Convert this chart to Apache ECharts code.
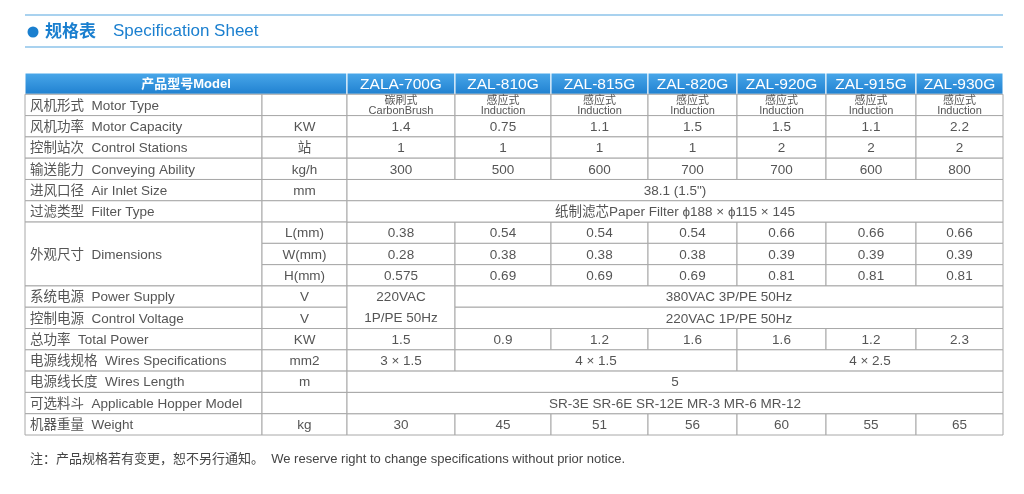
<!DOCTYPE html>
<html>
<head>
<meta charset="utf-8">
<script src="https://cdn.jsdelivr.net/npm/echarts@6/dist/echarts.min.js"></script>
<style>
  html, body { margin: 0; padding: 0; background: #fff; }
  #main { width: 1024px; height: 494px; }
</style>
</head>
<body>
<div id="main"></div>
<script>
// 型号
var models = ['ZALA-700G', 'ZAL-810G', 'ZAL-815G', 'ZAL-820G', 'ZAL-920G', 'ZAL-915G', 'ZAL-930G'];
// 行标题（第1行起）
var rowLabels = ['风机形式  Motor Type', '风机功率  Motor Capacity', '控制站次  Control Stations',
  '输送能力  Conveying Ability', '进风口径  Air Inlet Size', '过滤类型  Filter Type',
  '外观尺寸  Dimensions', '', '', '系统电源  Power Supply', '控制电源  Control Voltage',
  '总功率  Total Power', '电源线规格  Wires Specifications', '电源线长度  Wires Length',
  '可选料斗  Applicable Hopper Model', '机器重量  Weight'];
var units = ['', 'KW', '站', 'kg/h', 'mm', '', 'L(mm)', 'W(mm)', 'H(mm)', 'V', 'V', 'KW', 'mm2', 'm', '', 'kg'];
var motorType = [['碳刷式', 'CarbonBrush'], ['感应式', 'Induction'], ['感应式', 'Induction'], ['感应式', 'Induction'],
  ['感应式', 'Induction'], ['感应式', 'Induction'], ['感应式', 'Induction']];
var motorCapacity = ['1.4', '0.75', '1.1', '1.5', '1.5', '1.1', '2.2'];
var controlStations = ['1', '1', '1', '1', '2', '2', '2'];
var conveying = ['300', '500', '600', '700', '700', '600', '800'];
var dimL = ['0.38', '0.54', '0.54', '0.54', '0.66', '0.66', '0.66'];
var dimW = ['0.28', '0.38', '0.38', '0.38', '0.39', '0.39', '0.39'];
var dimH = ['0.575', '0.69', '0.69', '0.69', '0.81', '0.81', '0.81'];
var totalPower = ['1.5', '0.9', '1.2', '1.6', '1.6', '1.2', '2.3'];
var weight = ['30', '45', '51', '56', '60', '55', '65'];
// 合并单元格 [起始行, 结束行, 起始列, 结束列, 文本]
var merged = [
  [5, 5, 2, 8, '38.1 (1.5")'],
  [6, 6, 2, 8, '纸制滤芯Paper Filter ϕ188 × ϕ115 × 145'],
  [10, 11, 2, 2, '220VAC\n1P/PE 50Hz'],
  [10, 10, 3, 8, '380VAC 3P/PE 50Hz'],
  [11, 11, 3, 8, '220VAC 1P/PE 50Hz'],
  [13, 13, 2, 2, '3 × 1.5'],
  [13, 13, 3, 5, '4 × 1.5'],
  [13, 13, 6, 8, '4 × 2.5'],
  [14, 14, 2, 8, '5'],
  [15, 15, 2, 8, 'SR-3E SR-6E SR-12E MR-3 MR-6 MR-12']
];

// 列边界（像素宽度累计）
var colEdges = [0, 237, 322, 430, 526, 623, 712, 801, 891, 978];

var cells = [];
// 表头
cells.push([0, 0, 0, 1, '产品型号Model', 'head']);
models.forEach(function (m, i) { cells.push([0, 0, i + 2, i + 2, m, 'head']); });
// 行标题与单位
rowLabels.forEach(function (l, i) {
  var r = i + 1;
  if (r === 7) cells.push([7, 9, 0, 0, l, 'label']);
  else if (r < 8 || r > 9) cells.push([r, r, 0, 0, l, 'label']);
  cells.push([r, r, 1, 1, units[i], 'unit']);
});
function addRow(r, arr, kind) {
  arr.forEach(function (v, i) { cells.push([r, r, i + 2, i + 2, v, kind || 'val']); });
}
addRow(1, motorType.map(function (a) { return a.join('\n'); }), 'small');
addRow(2, motorCapacity);
addRow(3, controlStations);
addRow(4, conveying);
addRow(7, dimL);
addRow(8, dimW);
addRow(9, dimH);
addRow(12, totalPower);
addRow(16, weight);
merged.forEach(function (m) { cells.push([m[0], m[1], m[2], m[3], m[4], 'val']); });

var chart = echarts.init(document.getElementById('main'));
var option = {
  animation: false,
  grid: { left: 25, right: 21, top: 73, bottom: 59 },
  xAxis: { type: 'value', min: 0, max: 978, show: false },
  yAxis: { type: 'value', min: 0, max: 17, inverse: true, show: false },
  graphic: [
    { type: 'line', shape: { x1: 25, y1: 15, x2: 1003, y2: 15 }, style: { stroke: '#8cc3ea', lineWidth: 1.5 } },
    { type: 'line', shape: { x1: 25, y1: 47, x2: 1003, y2: 47 }, style: { stroke: '#8cc3ea', lineWidth: 1.5 } },
    { type: 'circle', shape: { cx: 33, cy: 32, r: 5.5 }, style: { fill: '#1a7fcf' } },
    { type: 'text', left: 45, top: 22, style: { text: '规格表', fill: '#1a7fcf', font: 'bold 17px "Noto Sans CJK SC"' } },
    { type: 'text', left: 113, top: 23, style: { text: 'Specification Sheet', fill: '#1a7fcf', font: '17px "Liberation Sans"' } },
    { type: 'text', left: 30, top: 453, style: { text: '注：产品规格若有变更，恕不另行通知。  We reserve right to change specifications without prior notice.', fill: '#444', font: '13px "Liberation Sans", "Noto Sans CJK SC"' } }
  ],
  series: [{
    type: 'custom',
    data: cells,
    renderItem: function (params, api) {
      var c = cells[params.dataIndex];
      var p0 = api.coord([colEdges[c[2]], c[0]]);
      var p1 = api.coord([colEdges[c[3] + 1], c[1] + 1]);
      var x = p0[0], y = p0[1], w = p1[0] - p0[0], h = p1[1] - p0[1];
      var kind = c[5];
      var fill = kind === 'head'
        ? new echarts.graphic.LinearGradient(0, 0, 0, 1, [{ offset: 0, color: '#4aa8ea' }, { offset: 1, color: '#1f80d0' }])
        : '#fff';
      var font = '13.5px "Liberation Sans", "Noto Sans CJK SC"';
      var color = '#555';
      var tx = x + w / 2, align = 'center', lh = 16;
      if (kind === 'head') {
        color = '#fff';
        font = (c[2] === 0 ? 'bold 13px' : '15.5px') + ' "Liberation Sans", "Noto Sans CJK SC"';
      } else if (kind === 'label') {
        tx = x + 5; align = 'left';
      } else if (kind === 'small') {
        font = '11px "Liberation Sans", "Noto Sans CJK SC"'; lh = 10;
      } else if (c[1] > c[0]) {
        lh = 21;
      }
      return {
        type: 'group',
        children: [
          { type: 'rect', shape: { x: x, y: y, width: w, height: h },
            style: { fill: fill, stroke: kind === 'head' ? '#ffffff' : '#a8a8a8', lineWidth: 1 } },
          { type: 'text', x: tx, y: y + h / 2 + 1,
            style: { text: c[4], fill: color, font: font, align: align, verticalAlign: 'middle', lineHeight: lh } }
        ]
      };
    }
  }]
};
chart.setOption(option);
</script>
</body>
</html>
